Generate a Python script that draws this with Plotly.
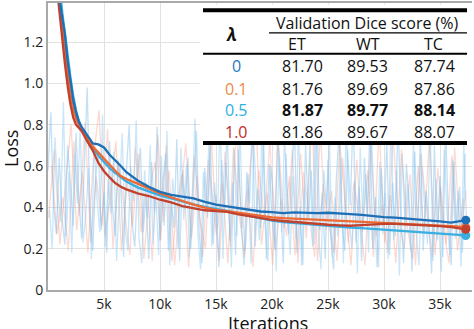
import plotly.graph_objects as go

# Training-loss curves for four lambda settings, with the raw per-step loss behind them
lambdas = ["0", "0.1", "0.5", "1.0"]
dice_et = [81.70, 81.76, 81.87, 81.86]
dice_wt = [89.53, 89.69, 89.77, 89.67]
dice_tc = [87.74, 87.86, 88.14, 88.07]

# raw loss of the lambda=0 and lambda=0.5 runs, every 250 iterations
raw_l0 = [0.58, 0.86, 0.41, 0.27, 0.64, 0.35, 0.22, 0.70, 0.52, 0.31,
          0.76, 0.44, 0.25, 0.61, 0.98, 0.38, 0.19, 0.55, 0.67, 0.29,
          0.47, 0.18, 0.72, 0.40, 0.26, 0.63, 0.50, 0.16, 0.58, 0.80,
          0.33, 0.21, 0.54, 0.69, 0.28, 0.45, 0.15, 0.62, 0.37, 0.79,
          0.24, 0.51, 0.66, 0.19, 0.43, 0.30, 0.73, 0.14, 0.56, 0.39,
          0.64, 0.20, 0.47, 0.77, 0.27, 0.13, 0.59, 0.35, 0.70, 0.22,
          0.46, 0.11, 0.63, 0.38, 0.81, 0.24, 0.52, 0.17, 0.68, 0.33,
          0.12, 0.57, 0.42, 0.85, 0.21, 0.49, 0.30, 0.74, 0.15, 0.61,
          0.36, 0.20, 0.78, 0.44, 0.13, 0.66, 0.27, 0.53, 0.82, 0.18,
          0.40, 0.12, 0.71, 0.34, 0.58, 0.22, 0.90, 0.29, 0.47, 0.15,
          0.63, 0.25, 0.10, 0.55, 0.76, 0.32, 0.19, 0.68, 0.41, 0.87,
          0.23, 0.50, 0.14, 0.64, 0.36, 0.80, 0.20, 0.45, 0.11, 0.59,
          0.31, 0.72, 0.17, 0.52, 0.26, 0.84, 0.38, 0.13, 0.61, 0.43,
          0.09, 0.67, 0.28, 0.75, 0.19, 0.48, 0.33, 0.08, 0.70, 0.24,
          0.55, 0.16, 0.79, 0.35, 0.12, 0.62, 0.27, 0.50, 0.18, 0.66]
raw_l05 = [0.39, 0.20, 0.74, 0.48, 0.33, 0.91, 0.26, 0.57, 0.18, 0.66,
           0.42, 0.80, 0.23, 0.36, 0.59, 0.15, 0.71, 0.44, 0.28, 0.85,
           0.21, 0.53, 0.37, 0.67, 0.14, 0.49, 0.76, 0.30, 0.19, 0.60,
           0.43, 0.82, 0.25, 0.13, 0.58, 0.35, 0.70, 0.22, 0.48, 0.17,
           0.65, 0.31, 0.77, 0.12, 0.54, 0.40, 0.20, 0.69, 0.34, 0.61,
           0.16, 0.45, 0.83, 0.27, 0.10, 0.57, 0.38, 0.73, 0.21, 0.52,
           0.30, 0.88, 0.15, 0.62, 0.42, 0.11, 0.68, 0.26, 0.79, 0.35,
           0.19, 0.56, 0.13, 0.72, 0.44, 0.24, 0.86, 0.32, 0.14, 0.60,
           0.47, 0.09, 0.65, 0.28, 0.77, 0.37, 0.17, 0.55, 0.25, 0.81,
           0.12, 0.50, 0.34, 0.70, 0.21, 0.92, 0.29, 0.10, 0.58, 0.40,
           0.75, 0.16, 0.45, 0.26, 0.64, 0.13, 0.83, 0.36, 0.20, 0.53,
           0.08, 0.69, 0.31, 0.56, 0.18, 0.78, 0.39, 0.11, 0.62, 0.27,
           0.47, 0.15, 0.87, 0.24, 0.58, 0.07, 0.66, 0.33, 0.51, 0.19,
           0.73, 0.28, 0.12, 0.60, 0.41, 0.22, 0.80, 0.14, 0.54, 0.30,
           0.09, 0.68, 0.37, 0.17, 0.63, 0.25, 0.48, 0.11, 0.71, 0.33]
# raw loss of the lambda=0.1 and lambda=1.0 runs, every 500 iterations
raw_l01 = [0.35, 0.68, 0.22, 0.50, 0.80, 0.29, 0.57, 0.18, 0.64, 0.87,
           0.26, 0.45, 0.72, 0.19, 0.53, 0.31, 0.66, 0.15, 0.48, 0.62,
           0.24, 0.70, 0.14, 0.43, 0.58, 0.11, 0.65, 0.34, 0.20, 0.76,
           0.27, 0.52, 0.13, 0.69, 0.37, 0.16, 0.61, 0.82, 0.22, 0.47,
           0.12, 0.74, 0.30, 0.55, 0.17, 0.66, 0.25, 0.85, 0.14, 0.51,
           0.32, 0.18, 0.71, 0.40, 0.12, 0.63, 0.28, 0.58, 0.16, 0.79,
           0.23, 0.46, 0.13, 0.68, 0.31, 0.15, 0.60, 0.27, 0.74, 0.17,
           0.50, 0.22, 0.65, 0.19, 0.44]
raw_l10 = [0.60, 0.27, 0.45, 0.19, 0.72, 0.36, 0.81, 0.23, 0.55, 0.31,
           0.78, 0.20, 0.61, 0.40, 0.17, 0.69, 0.28, 0.52, 0.14, 0.75,
           0.33, 0.58, 0.12, 0.46, 0.71, 0.25, 0.55, 0.16, 0.63, 0.38,
           0.14, 0.67, 0.21, 0.80, 0.30, 0.49, 0.11, 0.58, 0.34, 0.72,
           0.19, 0.44, 0.26, 0.68, 0.13, 0.57, 0.36, 0.16, 0.77, 0.29,
           0.48, 0.14, 0.64, 0.23, 0.52, 0.35, 0.12, 0.70, 0.26, 0.41,
           0.18, 0.75, 0.34, 0.20, 0.56, 0.12, 0.66, 0.38, 0.16, 0.59,
           0.30, 0.13, 0.69, 0.25, 0.48]

# smoothed loss
smooth_iters = [900, 1100, 1300, 1500, 1750, 2000, 2250, 2500, 2750, 3000,
                3500, 4000, 4500, 5000, 5500, 6000, 6500, 7000, 8000, 9000,
                10000, 11000, 12000, 13000, 14000, 15000, 16000, 17000, 18000, 19000,
                20000, 21000, 22000, 23000, 24000, 25000, 26000, 27000, 28000, 29000,
                30000, 31000, 32000, 33000, 34000, 35000, 36000, 37300]
smooth_l0 = [1.50, 1.38, 1.31, 1.24, 1.11, 1.01, 0.92, 0.86, 0.815, 0.79,
             0.75, 0.71, 0.705, 0.69, 0.655, 0.63, 0.60, 0.57, 0.53, 0.50,
             0.475, 0.461, 0.451, 0.443, 0.427, 0.413, 0.405, 0.396, 0.388, 0.380,
             0.377, 0.372, 0.376, 0.373, 0.372, 0.374, 0.369, 0.367, 0.364, 0.357,
             0.353, 0.350, 0.346, 0.343, 0.338, 0.332, 0.326, 0.338]
smooth_l01 = [1.47, 1.35, 1.25, 1.16, 1.05, 0.95, 0.875, 0.83, 0.80, 0.775,
              0.735, 0.695, 0.665, 0.635, 0.607, 0.577, 0.552, 0.537, 0.515, 0.49,
              0.468, 0.449, 0.43, 0.413, 0.399, 0.388, 0.382, 0.374, 0.366, 0.358,
              0.352, 0.348, 0.345, 0.342, 0.340, 0.336, 0.334, 0.331, 0.329, 0.327,
              0.325, 0.323, 0.320, 0.318, 0.316, 0.312, 0.309, 0.304]
smooth_l05 = [1.55, 1.42, 1.33, 1.25, 1.13, 1.03, 0.94, 0.87, 0.82, 0.785,
              0.74, 0.69, 0.65, 0.62, 0.59, 0.567, 0.545, 0.525, 0.497, 0.477,
              0.458, 0.443, 0.428, 0.414, 0.403, 0.394, 0.383, 0.370, 0.358, 0.346,
              0.336, 0.329, 0.324, 0.319, 0.314, 0.309, 0.305, 0.302, 0.300, 0.296,
              0.292, 0.288, 0.285, 0.281, 0.277, 0.273, 0.269, 0.264]
smooth_l10 = [1.41, 1.30, 1.19, 1.10, 0.99, 0.90, 0.835, 0.80, 0.785, 0.77,
              0.72, 0.675, 0.615, 0.575, 0.545, 0.518, 0.50, 0.487, 0.468, 0.455,
              0.437, 0.424, 0.406, 0.396, 0.386, 0.382, 0.378, 0.366, 0.357, 0.347,
              0.340, 0.334, 0.329, 0.325, 0.320, 0.316, 0.313, 0.311, 0.314, 0.318,
              0.320, 0.320, 0.318, 0.316, 0.313, 0.309, 0.304, 0.294]

x_ticks = [5000, 10000, 15000, 20000, 25000, 30000, 35000]
x_ticktext = ["5k", "10k", "15k", "20k", "25k", "30k", "35k"]
y_ticks = [0, 0.2, 0.4, 0.6, 0.8, 1.0, 1.2]
y_ticktext = ["0", "0.2", "0.4", "0.6", "0.8", "1.0", "1.2"]

FONT = "Open Sans"
W, H = 474, 329
ML, MR, MT, MB = 48, 2, 1, 39
PW, PH = W - ML - MR, H - MT - MB


def px(x):
    return (x - ML) / PW


def py(y):
    return (H - MB - y) / PH


fig = go.Figure()

raw_runs = [
    (raw_l01, 500, 60, "rgba(245,155,130,0.38)"),
    (raw_l10, 500, 310, "rgba(240,150,140,0.34)"),
    (raw_l0, 250, 0, "rgba(115,180,230,0.42)"),
    (raw_l05, 250, 125, "rgba(140,200,240,0.45)"),
]
for vals, step, off, col in raw_runs:
    fig.add_trace(go.Scatter(
        x=[off + step * i for i in range(len(vals))], y=vals, mode="lines",
        line=dict(color=col, width=1.3), hoverinfo="skip", showlegend=False))

smooth_runs = [
    (smooth_l05, "#38aee2"),
    (smooth_l01, "#ee6a34"),
    (smooth_l10, "#c2412c"),
    (smooth_l0, "#1d70b6"),
]
for vals, col in smooth_runs:
    fig.add_trace(go.Scatter(
        x=smooth_iters, y=vals, mode="lines",
        line=dict(color=col, width=2.3), showlegend=False))
for vals, col in smooth_runs:
    fig.add_trace(go.Scatter(
        x=[smooth_iters[-1]], y=[vals[-1]], mode="markers",
        marker=dict(color=col, size=9), showlegend=False))

# results table
shapes = [
    dict(type="rect", xref="paper", yref="paper", x0=px(200), x1=1.0,
         y0=py(143.5), y1=py(2.5), fillcolor="white", line=dict(width=0), layer="above"),
]
for y, x0, lw in [(8.3, 203, 4), (31, 269, 1.3), (52, 203, 2), (142, 203, 4)]:
    shapes.append(dict(type="line", xref="paper", yref="paper", x0=px(x0), x1=px(467),
                       y0=py(y), y1=py(y), line=dict(color="black", width=lw), layer="above"))

lam_colors = ["#1f78c4", "#ec8a48", "#2eb0e0", "#c42a2a"]
ann = []


def cell(x, y, text, color="#111", size=16):
    ann.append(dict(x=px(x), y=py(y), xref="paper", yref="paper", text=text,
                    showarrow=False, xanchor="center", yanchor="middle",
                    font=dict(family=FONT, size=size, color=color)))


cell(231, 33, "<b><i>λ</i></b>", size=17)
cell(367, 21, "Validation Dice score (%)")
cell(297, 42.5, "ET")
cell(368, 42.5, "WT")
cell(433.5, 42.5, "TC")
row_y = [64.5, 87.5, 109, 130.5]
for col_vals, cx in [(dice_et, 302), (dice_wt, 367.7), (dice_tc, 434.5)]:
    best = max(col_vals)
    for v, ry in zip(col_vals, row_y):
        t = f"{v:.2f}"
        cell(cx, ry, f"<b>{t}</b>" if v == best else t)
for lam, ry, c in zip(lambdas, row_y, lam_colors):
    cell(236.7, ry, lam, color=c)

# axis titles
ann.append(dict(x=px(268), y=py(309), xref="paper", yref="paper", text="Iterations",
                showarrow=False, xanchor="center", yanchor="top",
                font=dict(family=FONT, size=18, color="#111")))
ann.append(dict(x=px(11), y=py(148), xref="paper", yref="paper", text="Loss",
                showarrow=False, xanchor="center", yanchor="middle", textangle=-90,
                font=dict(family=FONT, size=18, color="#111")))

fig.update_layout(
    width=W, height=H, margin=dict(l=ML, r=MR, t=MT, b=MB),
    paper_bgcolor="white", plot_bgcolor="white",
    font=dict(family=FONT, size=14, color="#222"),
    shapes=shapes, annotations=ann, showlegend=False,
    xaxis=dict(range=[0, PW / 11.2 * 1000], tickvals=x_ticks, ticktext=x_ticktext,
               showgrid=True, gridcolor="#e2e2e2", gridwidth=1, zeroline=False,
               showline=True, linecolor="#a9a9a9", linewidth=2, mirror=True,
               ticks="", tickfont=dict(family=FONT, size=14, color="#222")),
    yaxis=dict(range=[0, PH / 208.0], tickvals=y_ticks, ticktext=y_ticktext,
               showgrid=True, gridcolor="#e2e2e2", gridwidth=1, zeroline=False,
               showline=True, linecolor="#a9a9a9", linewidth=2,
               ticks="", tickfont=dict(family=FONT, size=14, color="#222")),
)

fig.write_html("out.html")
